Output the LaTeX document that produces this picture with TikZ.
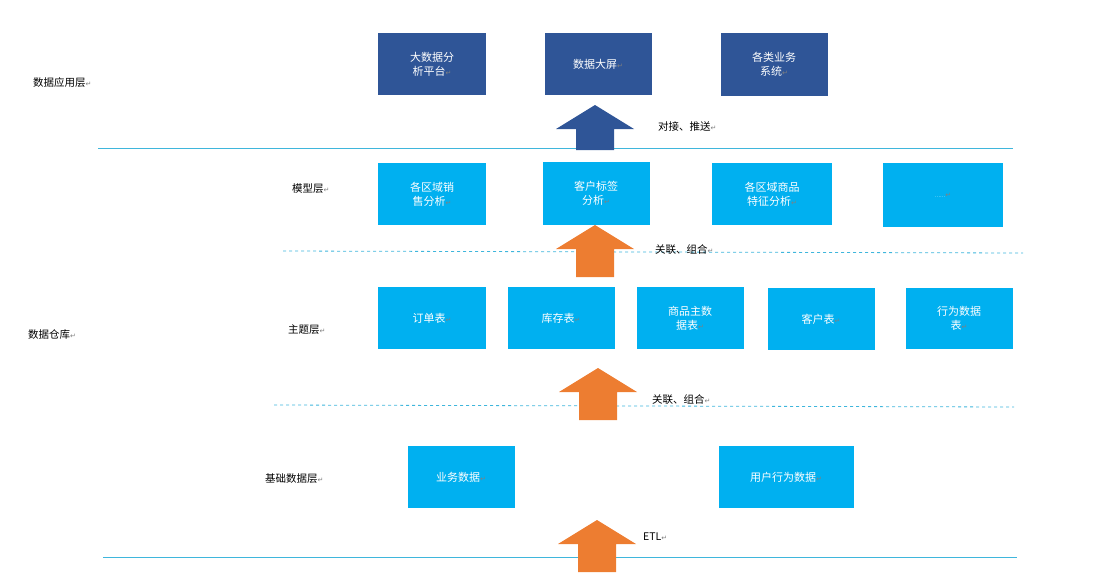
\documentclass[tikz,border=0pt]{standalone}
\usepackage{fontspec}
\setmainfont{Noto Sans CJK SC}
\newfontfamily\dv{DejaVu Sans}
\definecolor{dk}{HTML}{2F5597}
\definecolor{lb}{HTML}{00B0F0}
\definecolor{og}{HTML}{ED7D31}
\definecolor{ln}{HTML}{3FB6DC}
\newcommand{\pmk}{{\color{gray}\dv\scriptsize ↵}}
\begin{document}
\begin{tikzpicture}[x=1pt,y=-1pt,
 box/.style={fill=lb,text=white,inner sep=0pt,align=center,font=\fontsize{11}{14}\selectfont},
 dbox/.style={box,fill=dk},
 lab/.style={font=\fontsize{10.5}{13}\selectfont,anchor=west,inner sep=0pt}]
\useasboundingbox (0,0) rectangle (1096,584);
% lines
\draw[ln,line width=0.8pt] (98,148) coordinate (l1a) -- (1013,148) coordinate (l1b);
\draw[ln,line width=0.8pt,dashed] (283,251) coordinate (l2a) -- (1023,253) coordinate (l2b);
\draw[ln,line width=0.8pt,dashed] (274,405) coordinate (l3a) -- (1014,407) coordinate (l3b);
\draw[ln,line width=0.8pt] (103,557) coordinate (l4a) -- (1017,557) coordinate (l4b);
% arrows
\newcommand{\arr}[4]{\fill[#4] (#1-19,#2) -- (#1-19,#3+24) -- (#1-39,#3+24) -- (#1,#3) -- (#1+39,#3+24) -- (#1+19,#3+24) -- (#1+19,#2) -- cycle;}
\arr{595}{150}{105}{dk}
\arr{595}{277}{225}{og}
\arr{598}{420}{368}{og}
\arr{597}{572}{520}{og}
% boxes
\node[dbox,minimum width=108,minimum height=62] (a1) at (432,64) {大数据分\\析平台\pmk};
\node[dbox,minimum width=107,minimum height=62] (a2) at (598,64) {数据大屏\pmk};
\node[dbox,minimum width=107,minimum height=63] (a3) at (774,64) {各类业务\\系统\pmk};
\node[box,minimum width=108,minimum height=62] (m1) at (432,194) {各区域销\\售分析\pmk};
\node[box,minimum width=107,minimum height=63] (m2) at (596,193) {客户标签\\分析\pmk};
\node[box,minimum width=120,minimum height=62] (m3) at (772,194) {各区域商品\\特征分析\pmk};
\node[box,minimum width=120,minimum height=64] (m4) at (943,195) {{\tiny ……}\pmk};
\node[box,minimum width=108,minimum height=62] (t1) at (432,318) {订单表\pmk};
\node[box,minimum width=107,minimum height=62] (t2) at (561,318) {库存表\pmk};
\node[box,minimum width=107,minimum height=62] (t3) at (690,318) {商品主数\\据表\pmk};
\node[box,minimum width=107,minimum height=62] (t4) at (821,319) {客户表\pmk};
\node[box,minimum width=107,minimum height=61] (t5) at (959,318) {行为数据\\表\pmk};
\node[box,minimum width=107,minimum height=62] (b1) at (461,477) {业务数据\pmk};
\node[box,minimum width=135,minimum height=62] (b2) at (786,477) {用户行为数据\pmk};
% labels
\node[lab] (n1) at (33,83) {数据应用层\pmk};
\node[lab] (n2) at (292,189) {模型层\pmk};
\node[lab] (n3) at (28,335) {数据仓库\pmk};
\node[lab] (n4) at (288,330) {主题层\pmk};
\node[lab] (n5) at (265,479) {基础数据层\pmk};
\node[lab] (e1) at (658,127) {对接、推送\pmk};
\node[lab] (e2) at (655,250) {关联、组合\pmk};
\node[lab] (e3) at (652,400) {关联、组合\pmk};
\node[lab] (e4) at (643,537) {ETL\pmk};
\end{tikzpicture}
\end{document}
